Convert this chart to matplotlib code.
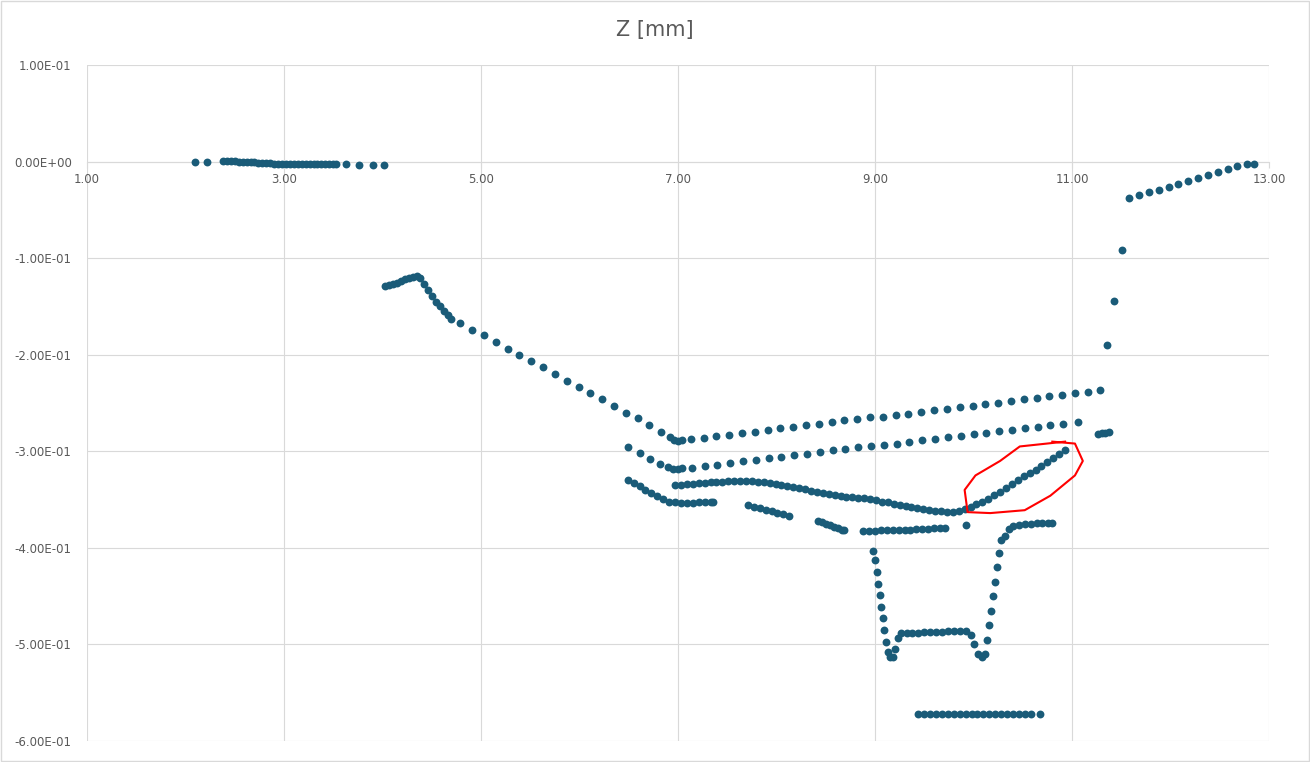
import numpy as np
import matplotlib
matplotlib.use("Agg")
import matplotlib.pyplot as plt
from matplotlib.ticker import FuncFormatter

# ---------------------------
# Data
# ---------------------------
A_X = [2.10, 2.22, 2.38, 2.42, 2.46, 2.50, 2.54, 2.58, 2.62, 2.66, 2.70, 2.74, 2.78, 2.82, 2.86, 2.90,
       2.94, 2.98, 3.02, 3.06, 3.10, 3.14, 3.18, 3.22, 3.26, 3.30, 3.34, 3.38, 3.42, 3.46, 3.50, 3.53,
       3.63, 3.76, 3.90, 4.02]
A_Y = [0.000, 0.000, 0.001, 0.001, 0.001, 0.001, 0.000, 0.000, 0.000, 0.000, 0.000, -0.001, -0.001,
       -0.001, -0.001, -0.002, -0.002, -0.002, -0.002, -0.002, -0.002, -0.002, -0.002, -0.002, -0.002,
       -0.002, -0.002, -0.002, -0.002, -0.002, -0.002, -0.003, -0.003, -0.004, -0.004, -0.004]

B_X = [4.03, 4.07, 4.11, 4.15, 4.19, 4.23, 4.27, 4.31, 4.35, 4.38, 4.42, 4.46, 4.50, 4.54, 4.58, 4.62,
       4.66, 4.70, 4.79, 4.91, 5.03, 5.15, 5.27, 5.39, 5.51, 5.63, 5.75, 5.87, 5.99, 6.11, 6.23, 6.35,
       6.47, 6.59, 6.71, 6.83, 6.92, 6.96, 7.00, 7.04]
B_Y = [-0.129, -0.128, -0.127, -0.126, -0.124, -0.122, -0.121, -0.120, -0.119, -0.121, -0.127, -0.133,
       -0.139, -0.145, -0.150, -0.155, -0.159, -0.163, -0.167, -0.174, -0.180, -0.187, -0.194, -0.200,
       -0.207, -0.213, -0.220, -0.227, -0.233, -0.240, -0.246, -0.253, -0.260, -0.266, -0.273, -0.280,
       -0.285, -0.288, -0.289, -0.288]

C_X = [7.13, 7.26, 7.39, 7.52, 7.65, 7.78, 7.91, 8.04, 8.17, 8.30, 8.43, 8.56, 8.69, 8.82, 8.95, 9.08,
       9.21, 9.34, 9.47, 9.60, 9.73, 9.86, 9.99, 10.12, 10.25, 10.38, 10.51, 10.64, 10.77, 10.90, 11.03,
       11.16, 11.28]
C_Y = [-0.287, -0.286, -0.284, -0.283, -0.281, -0.280, -0.278, -0.276, -0.275, -0.273, -0.272, -0.270,
       -0.268, -0.267, -0.265, -0.264, -0.262, -0.261, -0.259, -0.257, -0.256, -0.254, -0.253, -0.251,
       -0.250, -0.248, -0.246, -0.245, -0.243, -0.242, -0.240, -0.239, -0.237]

D_X = [6.49, 6.61, 6.72, 6.82, 6.90, 6.95, 7.00, 7.04, 7.14, 7.27, 7.40, 7.53, 7.66, 7.79, 7.92, 8.05,
       8.18, 8.31, 8.44, 8.57, 8.70, 8.83, 8.96, 9.09, 9.22, 9.35, 9.48, 9.61, 9.74, 9.87, 10.00, 10.13,
       10.26, 10.39, 10.52, 10.65, 10.78, 10.91, 11.06]
D_Y = [-0.296, -0.302, -0.308, -0.313, -0.316, -0.318, -0.318, -0.317, -0.317, -0.315, -0.314, -0.312,
       -0.310, -0.309, -0.307, -0.306, -0.304, -0.303, -0.301, -0.299, -0.298, -0.296, -0.295, -0.293,
       -0.292, -0.290, -0.288, -0.287, -0.285, -0.284, -0.282, -0.281, -0.279, -0.278, -0.276, -0.275,
       -0.273, -0.272, -0.270]

E_X = [11.26, 11.30, 11.34, 11.38]
E_Y = [-0.282, -0.281, -0.281, -0.280]

F_X = [11.36, 11.43, 11.51, 11.58, 11.68, 11.78, 11.88, 11.98, 12.08, 12.18, 12.28, 12.38, 12.48,
       12.58, 12.68, 12.78, 12.85]
F_Y = [-0.190, -0.144, -0.092, -0.038, -0.035, -0.032, -0.029, -0.026, -0.023, -0.020, -0.017, -0.014,
       -0.011, -0.008, -0.005, -0.003, -0.002]

G_X = [6.49, 6.55, 6.61, 6.67, 6.73, 6.79, 6.85, 6.91, 6.97, 7.03, 7.09, 7.15, 7.21, 7.27, 7.33, 7.36]
G_Y = [-0.330, -0.333, -0.336, -0.340, -0.343, -0.346, -0.349, -0.352, -0.353, -0.354, -0.354, -0.354,
       -0.353, -0.353, -0.353, -0.352]

H_X = [6.97, 7.03, 7.09, 7.15, 7.21, 7.27, 7.33, 7.39, 7.45, 7.51, 7.57, 7.63, 7.69, 7.75, 7.81, 7.87,
       7.93, 7.99, 8.05, 8.11, 8.17, 8.23, 8.29, 8.35, 8.41, 8.47, 8.53, 8.59, 8.65, 8.71, 8.77, 8.83,
       8.89, 8.95, 9.01, 9.07, 9.13, 9.19, 9.25, 9.31, 9.37, 9.43, 9.49, 9.55, 9.61, 9.67, 9.73, 9.79,
       9.85, 9.91, 9.97, 10.03, 10.09, 10.15, 10.21, 10.27, 10.33, 10.39, 10.45, 10.51, 10.57, 10.63,
       10.69, 10.75, 10.81, 10.87, 10.93]
H_Y = [-0.335, -0.335, -0.334, -0.334, -0.333, -0.333, -0.332, -0.332, -0.332, -0.331, -0.331, -0.331,
       -0.331, -0.331, -0.332, -0.332, -0.333, -0.334, -0.335, -0.336, -0.337, -0.338, -0.339, -0.341,
       -0.342, -0.343, -0.344, -0.345, -0.346, -0.347, -0.347, -0.348, -0.348, -0.349, -0.350, -0.352,
       -0.353, -0.355, -0.356, -0.357, -0.358, -0.359, -0.360, -0.361, -0.362, -0.362, -0.363, -0.363,
       -0.362, -0.360, -0.358, -0.355, -0.352, -0.349, -0.345, -0.342, -0.338, -0.334, -0.330, -0.326,
       -0.323, -0.319, -0.315, -0.311, -0.307, -0.303, -0.299]

I_X = [7.71, 7.77, 7.83, 7.89, 7.95, 8.01, 8.07, 8.13, 8.42, 8.46, 8.50, 8.54, 8.58, 8.62, 8.66, 8.69]
I_Y = [-0.356, -0.358, -0.359, -0.361, -0.362, -0.364, -0.365, -0.367, -0.372, -0.373, -0.375, -0.376,
       -0.378, -0.379, -0.381, -0.382]

J_X = [8.88, 8.94, 9.00, 9.06, 9.12, 9.18, 9.24, 9.30, 9.36, 9.42, 9.48, 9.54, 9.60, 9.66, 9.71, 9.92]
J_Y = [-0.383, -0.383, -0.383, -0.382, -0.382, -0.382, -0.381, -0.381, -0.381, -0.380, -0.380, -0.380,
       -0.379, -0.379, -0.379, -0.376]

K_X = [8.98, 9.00, 9.02, 9.03, 9.05, 9.06, 9.08, 9.09, 9.11, 9.13, 9.15, 9.18, 9.20, 9.23, 9.26, 9.32,
       9.38, 9.44, 9.50, 9.56, 9.62, 9.68, 9.74, 9.80, 9.86, 9.92, 9.97, 10.01, 10.05, 10.09, 10.12,
       10.14, 10.16, 10.18, 10.20, 10.22, 10.24, 10.26, 10.28, 10.32, 10.36, 10.40, 10.46, 10.52, 10.58,
       10.64, 10.70, 10.76, 10.80]
K_Y = [-0.403, -0.413, -0.425, -0.437, -0.449, -0.461, -0.473, -0.485, -0.497, -0.508, -0.513, -0.513,
       -0.505, -0.493, -0.488, -0.488, -0.488, -0.488, -0.487, -0.487, -0.487, -0.487, -0.486, -0.486,
       -0.486, -0.486, -0.490, -0.500, -0.510, -0.513, -0.510, -0.495, -0.480, -0.465, -0.450, -0.435,
       -0.420, -0.405, -0.392, -0.388, -0.380, -0.377, -0.376, -0.375, -0.375, -0.374, -0.374, -0.374,
       -0.374]

L_X = [9.44, 9.50, 9.56, 9.62, 9.68, 9.74, 9.80, 9.86, 9.92, 9.98, 10.04, 10.10, 10.16, 10.22, 10.28,
       10.34, 10.40, 10.46, 10.52, 10.58, 10.68]
L_Y = [-0.572] * len(L_X)

# hand-drawn red annotation loop
RED_X = [10.93, 10.47, 10.27, 10.02, 9.91, 9.94, 10.17, 10.52, 10.78, 11.03, 11.11, 11.03, 10.80]
RED_Y = [-0.290, -0.295, -0.310, -0.325, -0.340, -0.363, -0.364, -0.361, -0.346, -0.325, -0.310,
         -0.292, -0.290]

SEGMENTS = [(A_X, A_Y), (B_X, B_Y), (C_X, C_Y), (D_X, D_Y), (E_X, E_Y), (F_X, F_Y),
            (G_X, G_Y), (H_X, H_Y), (I_X, I_Y), (J_X, J_Y), (K_X, K_Y), (L_X, L_Y)]

X_TICKS = [1, 3, 5, 7, 9, 11, 13]
Y_TICKS = [0.1, 0.0, -0.1, -0.2, -0.3, -0.4, -0.5, -0.6]

# ---------------------------
# Plot
# ---------------------------
DOT = "#1a5b78"
TXT = "#595959"
GRID = "#d9d9d9"

fig = plt.figure(figsize=(13.1, 7.62), dpi=100)
ax = fig.add_axes([87 / 1310, 1 - 741 / 762, (1269 - 87) / 1310, (741 - 65) / 762])

for xs, ys in SEGMENTS:
    ax.scatter(xs, ys, s=32, color=DOT, linewidths=0, zorder=3)

ax.plot(RED_X, RED_Y, color="red", linewidth=1.5, zorder=4)

ax.set_xlim(1, 13)
ax.set_ylim(-0.6, 0.1)
ax.set_xticks(X_TICKS)
ax.set_yticks(Y_TICKS)
ax.xaxis.set_major_formatter(FuncFormatter(lambda v, p: f"{v:.2f}"))
ax.yaxis.set_major_formatter(FuncFormatter(lambda v, p: f"{v:.2E}"))
ax.grid(True, color=GRID, linewidth=0.8, zorder=0)
ax.set_axisbelow(True)

for s in ["top", "right", "left"]:
    ax.spines[s].set_visible(False)
ax.spines["bottom"].set_position(("data", 0))
ax.spines["bottom"].set_color(GRID)
ax.tick_params(axis="both", length=0, labelcolor=TXT, labelsize=8.5)
ax.tick_params(axis="x", length=4, color=GRID, pad=4)
ax.tick_params(axis="y", pad=11)

fig.text(0.5, 1 - 30 / 762, "Z [mm]", ha="center", va="center", fontsize=15, color=TXT)
fig.patches.append(plt.Rectangle((0.001, 0.001), 0.998, 0.998, transform=fig.transFigure,
                                 fill=False, edgecolor=GRID, linewidth=1))

fig.savefig("out.png", dpi=100)
